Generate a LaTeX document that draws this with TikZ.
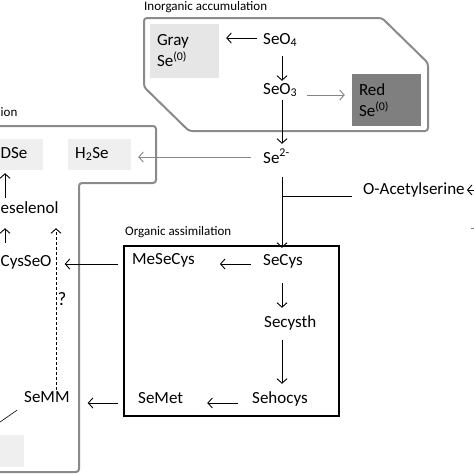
\documentclass[tikz,border=0pt]{standalone}
\usepackage{fontspec}
\setmainfont{Carlito}
\usetikzlibrary{arrows.meta,calc}
\definecolor{boxgray}{HTML}{8A8A8A}
\definecolor{lightfill}{HTML}{E6E6E6}
\definecolor{palefill}{HTML}{EFEFEF}
\definecolor{darkfill}{HTML}{7F7F7F}
\definecolor{arrgray}{HTML}{858585}
\tikzset{
  txt/.style={inner sep=0pt, text height=11pt, text depth=3pt, font=\fontsize{17}{20}\selectfont, anchor=west},
  lbl/.style={inner sep=0pt, font=\fontsize{13}{15}\selectfont},
  arr/.style={draw=black, line width=0.9pt, -{Straight Barb[length=4.5pt,width=10pt]}},
  garr/.style={draw=arrgray, line width=0.9pt, -{Straight Barb[length=4.5pt,width=10pt]}},
  dasharr/.style={arr, dashed, dash pattern=on 3pt off 2pt},
  region/.style={draw=boxgray, line width=2pt, rounded corners=3pt},
  orgbox/.style={draw=black, line width=1.6pt},
  fillbox/.style={inner sep=7pt, align=left, font=\fontsize{17}{21}\selectfont},
}
\begin{document}
\begin{tikzpicture}[x=1pt,y=-1pt]
\useasboundingbox (0,0) rectangle (474,474);
% region outlines
\draw[region] (144,18) -- (382,18) -- (428,63) -- (428,131) -- (189,131) -- (144,87) -- cycle;
\draw[region] (-20,126) -- (156,126) -- (156,183) -- (79,183) -- (79,472) -- (-20,472);
\draw[orgbox] (124,246) rectangle (339,416);
% filled boxes
\node[fillbox, fill=lightfill, minimum width=69pt, minimum height=54pt, text width=55pt] (grayse) at (184.5,51) {Gray\\Se\textsuperscript{(0)}};
\node[fillbox, fill=darkfill, minimum width=69pt, minimum height=52pt, text width=55pt] (redse) at (386.5,100) {Red\\Se\textsuperscript{(0)}};
\node[fill=palefill, minimum width=73pt, minimum height=31pt, inner sep=0pt] (dsebox) at (6.5,154.5) {};
\node[fill=palefill, minimum width=63pt, minimum height=31pt, inner sep=0pt] (h2sebox) at (99.5,154.5) {};
\node[fill=palefill, minimum width=44pt, minimum height=32pt, inner sep=0pt] (bottombox) at (2,451) {};
% labels
\node[lbl, anchor=west] (lblinorg) at (144,7) {Inorganic accumulation};
\node[lbl, anchor=west] (lblvol) at (0.5,112) {ion};
\node[lbl, anchor=west] (lblorg) at (125,232) {Organic assimilation};
% text nodes
\node[txt] (seo4) at (263,40) {SeO\textsubscript{4}};
\node[txt] (seo3) at (263,90) {SeO\textsubscript{3}};
\node[txt] (se2) at (263,159) {Se\textsuperscript{2-}};
\node[txt] (oacet) at (363,190) {O-Acetylserine};
\node[txt] (secys) at (263,261) {SeCys};
\node[txt] (mesecys) at (132,260) {MeSeCys};
\node[txt] (secysth) at (264,323) {Secysth};
\node[txt] (sehocys) at (252,399) {Sehocys};
\node[txt] (semet) at (138,399) {SeMet};
\node[txt] (semm) at (24,398) {SeMM};
\node[txt] (h2se) at (75,154) {H\textsubscript{2}Se};
\node[txt] (dse) at (0.5,154) {DSe};
\node[txt] (eselenol) at (0.5,209) {eselenol};
\node[txt] (cysseo) at (0.5,262) {CysSeO};
\node[txt, anchor=center, font=\fontsize{19}{22}\selectfont] (qmark) at (62,301) {?};
% columns
\coordinate (col) at (282,0);
\coordinate (lcol) at (5,0);
\coordinate (dcol) at (56,0);
\coordinate (offright) at (490,190);
\coordinate (offleft) at (-10,429);
\coordinate (tickA) at (471,228);
\coordinate (tickB) at (476,228);
% connectors
\draw[arr] ($(seo4.west)+(-6,-2)$) -- ($(grayse.east |- seo4.west)+(7,-2)$);
\draw[arr, shorten <=9pt, shorten >=2pt] (seo4.south -| col) -- (seo3.north -| col);
\draw[garr] ($(seo3.east)+(10,5)$) -- ($(redse.west |- seo3.east)+(-7,5)$);
\draw[arr, shorten <=3pt, shorten >=8pt] (seo3.south -| col) -- (se2.north -| col);
\draw[garr] ($(se2.west)+(-12,-2)$) -- ($(h2sebox.east |- se2.west)+(7,-2)$);
\draw[arr, shorten <=11pt, shorten >=6pt] (se2.south -| col) -- (secys.north -| col);
\draw[line width=0.9pt] ($(oacet.west)+(-11,6)$) -- ($(col |- oacet.west)+(0,6)$);
\draw[arr] (offright) -- ($(oacet.east)+(2,0)$);
\draw[arrgray, line width=0.6pt] (tickA) -- (tickB);
\draw[arr] ($(secys.west)+(-12,3)$) -- ($(mesecys.east |- secys.west)+(25,3)$);
\draw[arr, shorten <=15pt, shorten >=8pt] (secys.south -| col) -- (secysth.north -| col);
\draw[arr, shorten <=10pt, shorten >=8pt] (secysth.south -| col) -- (sehocys.north -| col);
\draw[arr] ($(sehocys.west)+(-14,4)$) -- ($(semet.east |- sehocys.west)+(24,4)$);
\draw[arr] ($(semet.west)+(-20,4)$) -- ($(semm.east |- semet.west)+(18,4)$);
\draw[arr] ($(mesecys.west)+(-14,4)$) -- ($(cysseo.east |- mesecys.west)+(13,4)$);
\draw[arr, shorten <=12pt, shorten >=12pt] (cysseo.north -| lcol) -- (eselenol.south -| lcol);
\draw[arr, shorten <=4pt, shorten >=3pt] (eselenol.north -| lcol) -- (dsebox.south -| lcol);
\draw[dasharr, shorten <=1pt, shorten >=12pt] (semm.north -| dcol) -- (eselenol.south -| dcol);
\draw[line width=0.6pt] ($(semm.south west)+(-7,5)$) -- (offleft);
\end{tikzpicture}
\end{document}
